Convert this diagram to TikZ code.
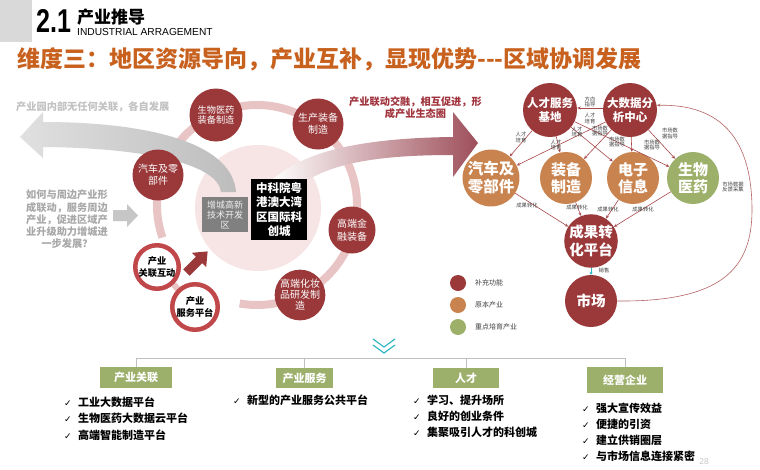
\documentclass[tikz,border=0pt]{standalone}
\usepackage{graphicx}
\usepackage{fontspec}
\setmainfont{Noto Sans CJK SC}
\newfontfamily\ttlfont{Noto Sans CJK SC}[Ligatures=TeXOff]
\newfontfamily\latfont{Liberation Sans}
\newfontfamily\symfont{DejaVu Sans}
\usetikzlibrary{arrows.meta}
\definecolor{dred}{HTML}{9A383A}
\definecolor{wred}{HTML}{C0474A}
\definecolor{ringpink}{HTML}{E9C4C5}
\definecolor{palepink}{HTML}{F7E4E4}
\definecolor{orng}{HTML}{C9834F}
\definecolor{grn}{HTML}{9CB06A}
\definecolor{ttl}{HTML}{C8611E}
\definecolor{arrred}{HTML}{9E4F5A}
\definecolor{boxgrn}{HTML}{9CB06C}
\definecolor{edgec}{HTML}{A8474A}
\definecolor{cyanc}{HTML}{2BB3C4}
\definecolor{labc}{HTML}{404040}
\definecolor{hdrgray}{HTML}{D9D9D9}
\definecolor{redtxt}{HTML}{A0323C}
\definecolor{gtxt}{HTML}{A8A8A8}
\definecolor{gtxtl}{HTML}{C2C2C2}
\definecolor{garL}{HTML}{E0E0E0}
\definecolor{garR}{HTML}{BDBDBD}
\definecolor{boxgray}{HTML}{808080}
\definecolor{treeg}{HTML}{BFBFBF}
\newcommand\ckm{\makebox[14pt][l]{\symfont\fontsize{9}{9}\selectfont ✓}}
\tikzset{
  ringc/.style={circle, fill=dred, text=white, inner sep=0pt, minimum size=#1, align=center},
  wc/.style={circle, fill=white, draw=wred, line width=4.5pt, inner sep=0pt, minimum size=#1, align=center, font=\bfseries\fontsize{9.2}{11.5}\selectfont},
  netc/.style={circle, inner sep=0pt, minimum size=#1, align=center, text=white},
  edgeline/.style={draw=edgec, line width=0.6pt, -{Stealth[length=3.5pt,width=3pt]}},
  elab/.style={font=\fontsize{5.3}{5.8}\selectfont, text=labc, align=center, inner sep=0pt},
  gbox/.style={fill=boxgrn, text=white, font=\bfseries\fontsize{11}{11}\selectfont, inner sep=0pt},
  bul/.style={anchor=west, font=\bfseries\fontsize{11}{11}\selectfont, inner sep=0pt},
  leg/.style={circle, inner sep=0pt, minimum size=16pt},
  legt/.style={anchor=west, font=\fontsize{7}{7}\selectfont, text=labc, inner sep=0pt},
  treeline/.style={draw=treeg, line width=1pt},
}
\begin{document}
\begin{tikzpicture}[x=1pt,y=-1pt, every node/.style={inner sep=0pt}]
\useasboundingbox (0,0) rectangle (760,469);
\fill[white] (0,0) rectangle (760,469);
% header
\fill[hdrgray] (0,0) rectangle (32,42);
\node[anchor=west] (num) at (36,21) {\latfont\bfseries\fontsize{33}{33}\selectfont\scalebox{0.76}[1]{2.1}};
\node[anchor=west] (hd) at (77,17.5) {\bfseries\fontsize{17}{17}\selectfont 产业推导};
\node[anchor=west] (hden) at (77,31.5) {\latfont\fontsize{10.2}{10.2}\selectfont INDUSTRIAL ARRAGEMENT};
\node[anchor=west, text=ttl] (title) at (17,59) {\ttlfont\bfseries\fontsize{23}{23}\selectfont 维度三：地区资源导向，产业互补，显现优势---区域协调发展};
% left: ring
\fill[palepink] (258,208) circle (63);
\draw[ringpink, line width=8pt] (257,205) ++(161:100) arc[start angle=161, end angle=460, radius=100];
% gray arrow
\shade[left color=garL, right color=garR] (20,137) -- (43,112) -- (43,122) .. controls (140,122) and (232,140) .. (236,192) -- (221,192) .. controls (218,165) and (150,148) .. (43,147) -- (43,158) -- cycle;
% red arrow
\shade[left color=white, right color=arrred] (270,182) .. controls (300,152) and (360,138) .. (453,137) -- (453,112) -- (478,143) -- (453,177) -- (453,155) .. controls (370,155) and (318,165) .. (290,194) -- cycle;
% ring circles
\node[ringc=53, font=\fontsize{9.2}{10.5}\selectfont] (swyy) at (216,115) {生物医药\\装备制造};
\node[ringc=51, font=\fontsize{10}{12}\selectfont] (sczb) at (318,124) {生产装备\\制造};
\node[ringc=51, font=\fontsize{10}{12}\selectfont] (qclj) at (158,175) {汽车及零\\部件};
\node[ringc=47, font=\fontsize{10}{13}\selectfont] (gdjr) at (352,230) {高端金\\融装备};
\node[ringc=49, font=\fontsize{10}{11}\selectfont] (gdhz) at (300,295) {高端化妆\\品研发制\\造};
\draw[ringpink, line width=6pt] (157,267) -- (195,307);
\node[wc=43.5] (cygl) at (157,267) {产业\\关联互动};
\node[wc=45.5] (cyfw) at (195,307) {产业\\服务平台};
% boxes
\node[fill=boxgray, text=white!94!black, minimum width=46, minimum height=35, align=center, font=\fontsize{9}{10}\selectfont] (zc) at (225,214.5) {增城高新\\技术开发\\区};
\node[fill=black, text=white, minimum width=56, minimum height=61, align=center, font=\bfseries\fontsize{11.5}{14.5}\selectfont] (kcc) at (279,209.5) {中科院粤\\港澳大湾\\区国际科\\创城};
% left texts
\node[anchor=west, text=gtxtl] (t1) at (16,107) {\bfseries\fontsize{10.2}{10.2}\selectfont 产业园内部无任何关联，各自发展};
\node[align=center, text=gtxt, font=\bfseries\fontsize{10.2}{12.3}\selectfont] (q) at (67,219.5) {如何与周边产业形\\成联动，服务周边\\产业，促进区域产\\业升级助力增城进\\一步发展？};
\fill[gray!45] (113,210) -- (127,210) -- (127,204) -- (138,215.5) -- (127,227) -- (127,221) -- (113,221) -- cycle;
\fill[dred] (183.2,269.4) -- (195.9,256.7) -- (192,252.8) -- (207.6,251.4) -- (206.2,267) -- (202.3,263.1) -- (189.6,275.8) -- cycle;
\node[align=center, text=redtxt, font=\bfseries\fontsize{10.2}{11.5}\selectfont] (rt) at (415.5,107.5) {产业联动交融，相互促进，形\\成产业生态圈};
% right network
\node[netc=54, fill=dred, font=\bfseries\fontsize{11.5}{13.5}\selectfont] (rcfw) at (550,110) {人才服务\\基地};
\node[netc=54, fill=dred, font=\bfseries\fontsize{11.5}{13.5}\selectfont] (dsj) at (630,110) {大数据分\\析中心};
\node[netc=53, fill=orng, font=\bfseries\fontsize{15.5}{18}\selectfont] (qc) at (491,178) {汽车及\\零部件};
\node[netc=52, fill=orng, font=\bfseries\fontsize{15}{17}\selectfont] (zb) at (566,178) {装备\\制造};
\node[netc=52, fill=orng, font=\bfseries\fontsize{15}{17}\selectfont] (dz) at (633,178) {电子\\信息};
\node[netc=52, fill=grn, font=\bfseries\fontsize{15}{17}\selectfont] (sw) at (693,178) {生物\\医药};
\node[netc=52, fill=dred, font=\bfseries\fontsize{14.5}{17.5}\selectfont] (cg) at (591,241) {成果转\\化平台};
\node[netc=52, fill=dred, font=\bfseries\fontsize{14.5}{17.5}\selectfont] (sc) at (591,301) {市场};
% edges
\draw[edgeline] (dsj.west |- 0,108) -- (rcfw.east |- 0,108);
\draw[edgeline] (rcfw) -- (qc);
\draw[edgeline] (rcfw) -- (zb);
\draw[edgeline] (rcfw) -- (dz);
\draw[edgeline] (rcfw) -- (sw);
\draw[edgeline] (dsj) -- (qc);
\draw[edgeline] (dsj) -- (zb);
\draw[edgeline] (dsj) -- (dz);
\draw[edgeline] (dsj) -- (sw);
\draw[edgeline] (qc) -- (cg);
\draw[edgeline] (zb) -- (cg);
\draw[edgeline] (dz) -- (cg);
\draw[edgeline] (sw) -- (cg);
\draw[draw=cyanc, line width=0.8pt, -{Stealth[length=3pt,width=3pt]}] (cg) -- (sc);
\draw[edgeline, draw=edgec!85] (sc.east) .. controls (720,302) and (752,270) .. (752,210) .. controls (752,140) and (722,104) .. (dsj.10);
% edge labels
\node[elab] (l1) at (590,102) {方向\\指导};
\node[elab] (l2) at (590,118.5) {人才\\培育};
\node[elab] (l3) at (521,137.5) {人才\\培育};
\node[elab] (l4) at (556,145) {人才\\培育};
\node[elab] (l5) at (577,132) {人才\\培育};
\node[elab] (l6) at (600,131) {市场数\\据指导};
\node[elab] (l7) at (617,142) {市场数\\据指导};
\node[elab] (l8) at (652,145) {市场数\\据指导};
\node[elab] (l9) at (670,133.5) {市场数\\据指导};
\node[elab] (m1) at (527,205) {成果转化};
\node[elab] (m2) at (577,207) {成果转化};
\node[elab] (m3) at (608,209) {成果转化};
\node[elab] (m4) at (643,209) {成果转化};
\node[elab] (xs) at (604,270) {销售};
\node[elab] (fk) at (733,187) {市场数据\\反馈采集};
% legend
\node[leg, fill=dred] (lg1) at (458,283) {};
\node[leg, fill=orng] (lg2) at (458,305) {};
\node[leg, fill=grn] (lg3) at (458,327) {};
\node[legt] (lt1) at (475,283) {补充功能};
\node[legt] (lt2) at (475,305) {原本产业};
\node[legt] (lt3) at (475,327) {重点培育产业};
% chevrons
\draw[cyanc, line width=1.1pt] (373,339) -- (384,347) -- (395,339);
\draw[cyanc, line width=1.1pt] (373,345) -- (384,353) -- (395,345);
% bottom tree
\node[gbox, minimum width=72, minimum height=21] (b1) at (136,377.5) {产业关联};
\node[gbox, minimum width=57, minimum height=20] (b2) at (304.5,378) {产业服务};
\node[gbox, minimum width=66, minimum height=20] (b3) at (466,378) {人才};
\node[gbox, minimum width=76, minimum height=26] (b4) at (625,380) {经营企业};
\coordinate (tl) at (136,358);
\draw[treeline] (b1.north) -- (b1.north |- tl) -- (b4.north |- tl) -- (b4.north);
\draw[treeline] (b2.north) -- (b2.north |- tl);
\draw[treeline] (b3.north) -- (b3.north |- tl);
% bullets
\node[bul] (a1) at (64,402) {\ckm 工业大数据平台};
\node[bul] (a2) at (64,418.5) {\ckm 生物医药大数据云平台};
\node[bul] (a3) at (64,435) {\ckm 高端智能制造平台};
\node[bul] (c1) at (233,400) {\ckm 新型的产业服务公共平台};
\node[bul] (d1) at (413,400) {\ckm 学习、提升场所};
\node[bul] (d2) at (413,416.5) {\ckm 良好的创业条件};
\node[bul] (d3) at (413,432.5) {\ckm 集聚吸引人才的科创城};
\node[bul] (e1) at (582,408) {\ckm 强大宣传效益};
\node[bul] (e2) at (582,424.5) {\ckm 便捷的引资};
\node[bul] (e3) at (582,440.5) {\ckm 建立供销圈层};
\node[bul] (e4) at (582,456.5) {\ckm 与市场信息连接紧密};
\node[text=gray!45] (pg) at (704,462) {\latfont\fontsize{8.5}{8.5}\selectfont 28};
\end{tikzpicture}
\end{document}
